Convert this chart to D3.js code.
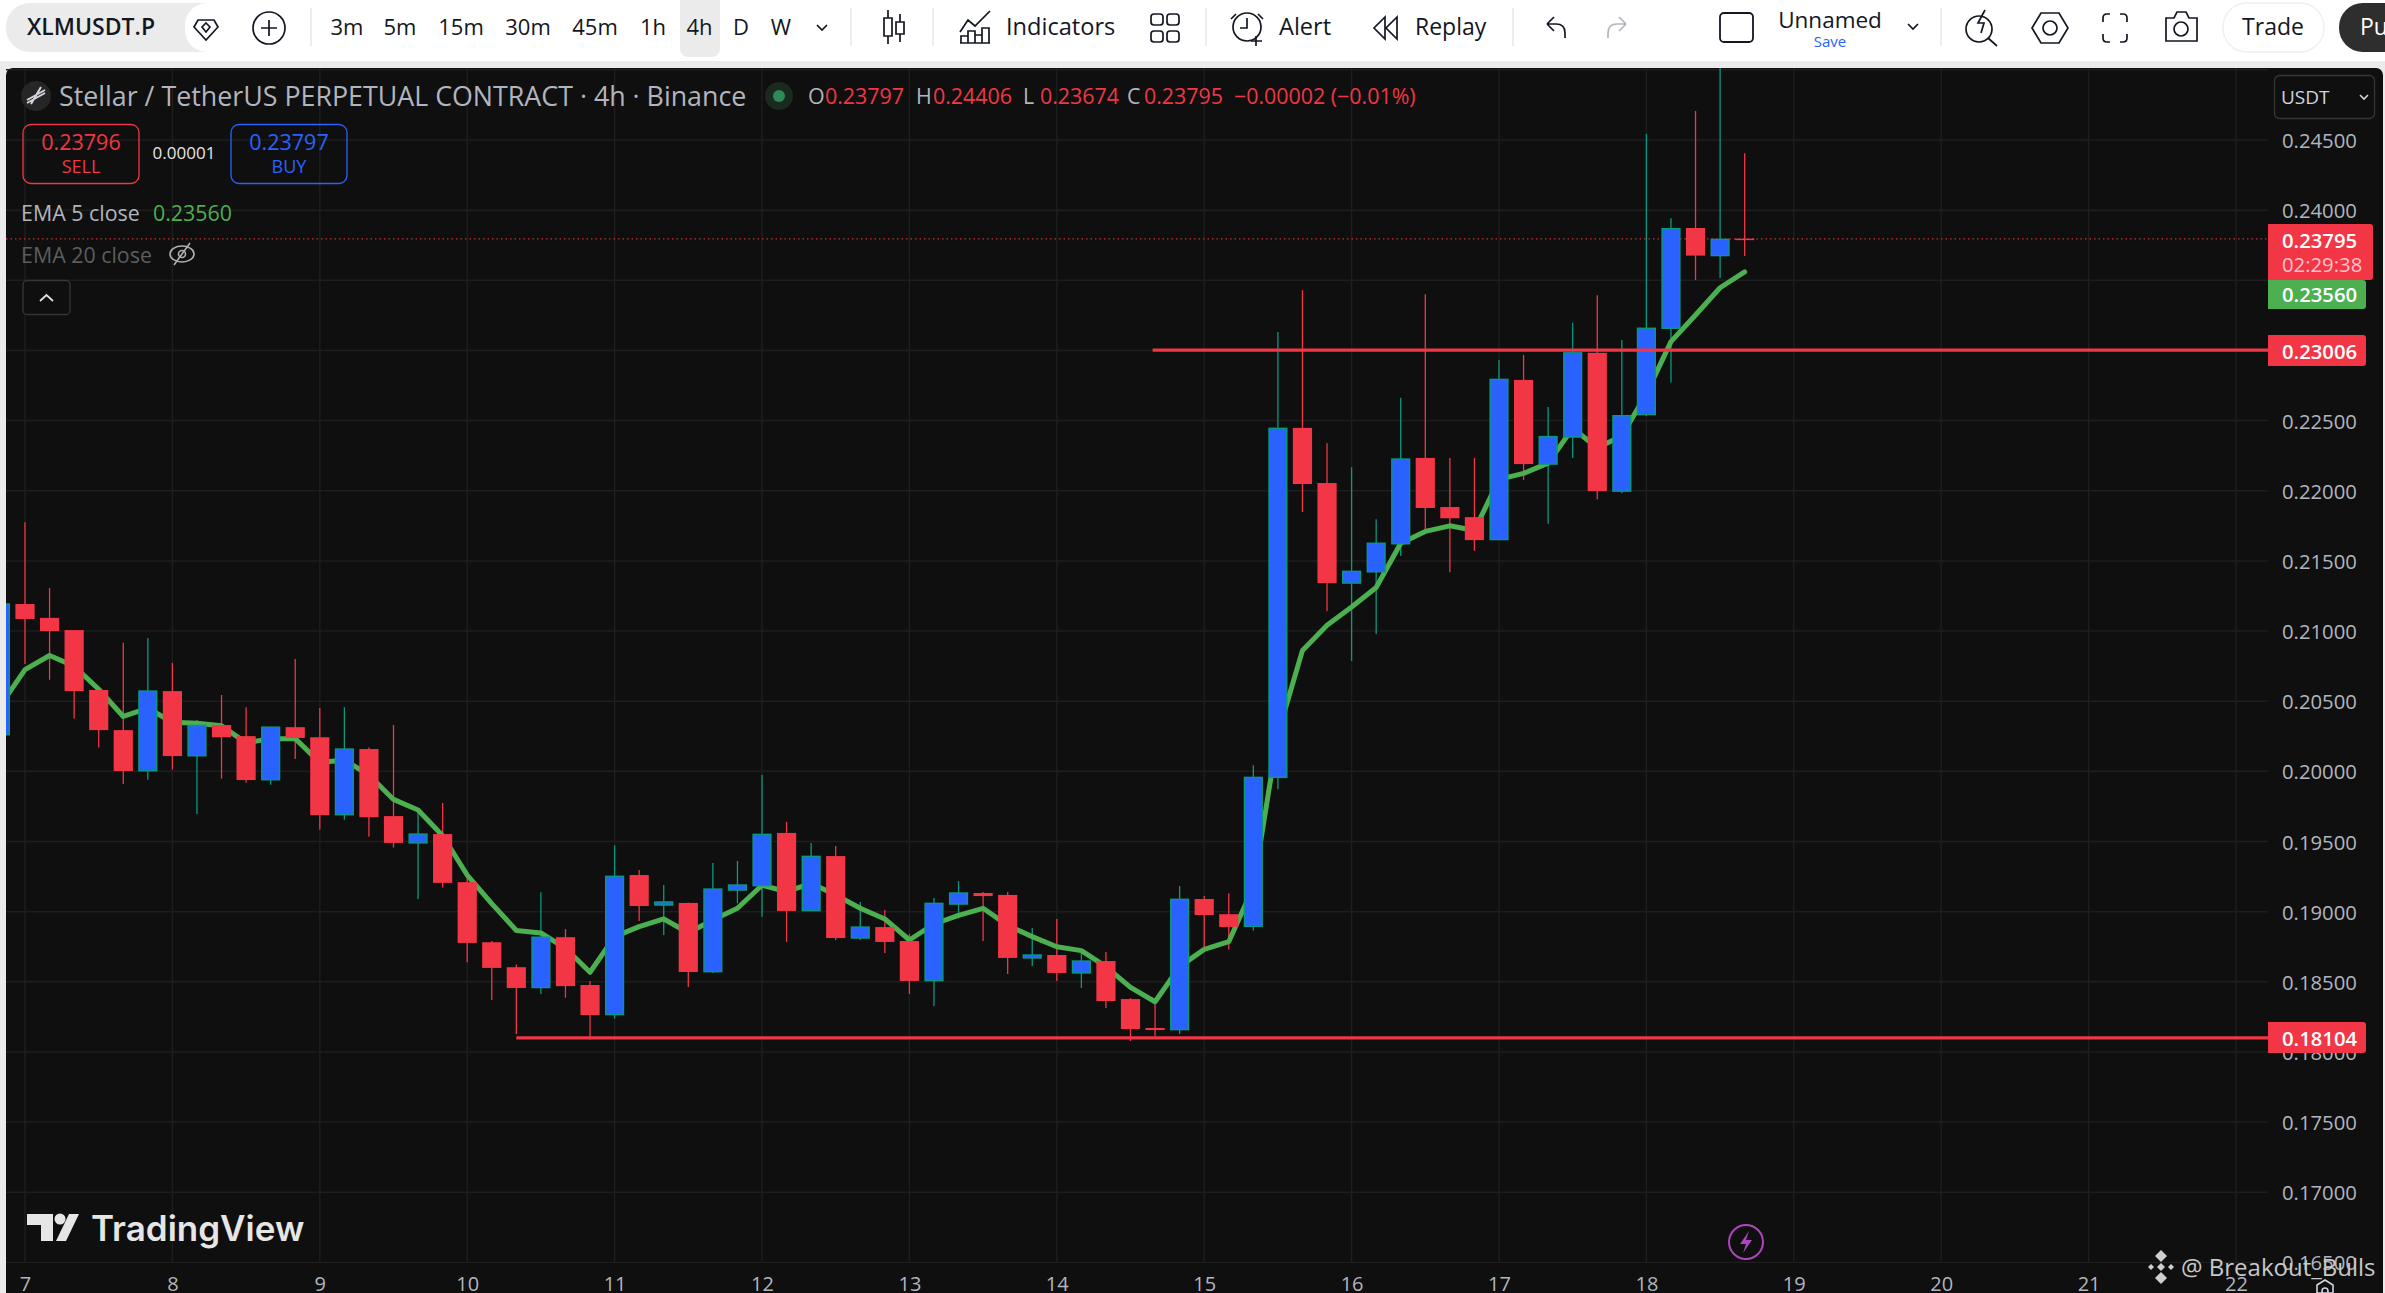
<!DOCTYPE html>
<html>
<head>
<meta charset="utf-8">
<script src="https://d3js.org/d3.v7.min.js"></script>
<style>
    * { margin: 0; padding: 0; }
    body { background: #ebebeb; overflow: hidden; }
    text { font-family: "Open Sans", sans-serif; }
</style>
</head>
<body>
<script>
/////////////////////////////////////////////////////
// DATA
/////////////////////////////////////////////////////

// 4h bars, the first one starts one bar before day 7
const firstBar = -1
const opens = [.20261,.21193,.21094,.21007,.20580,.20294,.20004,.20572,.20111,.20330,.20251,.19940,.20315,.20243,.19691,.20159,.19681,.19490,.19553,.19210,.18782,.18604,.18459,.18818,.18477,
    .18266,.19261,.19047,.19062,.18572,.19154,.19185,.19561,.19007,.19396,.18812,.18890,.18791,.18508,.19054,.19133,.19119,.18670,.18691,.18563,.18648,.18377,.18171,.18159,.19090,
    .18982,.18895,.19957,.22448,.22055,.21342,.21422,.21622,.22234,.21884,.21812,.21652,.22790,.22190,.22383,.22983,.21997,.22543,.23158,.23873,.23676,.23797]
const highs = [.21193,.21776,.21308,.21007,.20580,.20916,.20951,.20773,.20366,.20544,.20457,.20315,.20801,.20452,.20457,.20170,.20330,.19711,.19775,.19286,.18790,.18624,.19138,.18876,.18505,
    .19473,.19297,.19190,.19066,.19347,.19361,.19974,.19639,.19489,.19468,.19069,.19012,.18841,.19097,.19218,.19140,.19140,.18883,.18948,.18712,.18712,.18384,.18363,.19183,.19111,
    .19131,.20044,.23132,.23430,.22339,.22168,.21797,.22663,.23401,.22234,.22234,.22932,.22968,.22597,.23197,.23394,.23074,.24543,.23942,.24707,.25160,.24406]
const lows = [.20261,.20765,.20653,.20376,.20170,.19910,.19940,.20012,.19696,.19948,.19918,.19905,.20088,.19584,.19655,.19533,.19457,.19090,.19172,.18639,.18370,.18128,.18413,.18387,.18087,
    .18237,.18933,.18833,.18463,.18563,.19059,.18964,.18784,.19007,.18798,.18798,.18705,.18413,.18327,.18952,.18791,.18555,.18613,.18506,.18456,.18313,.18078,.18114,.18128,.18748,
    .18731,.18866,.19873,.21848,.21142,.20786,.20979,.21535,.21717,.21419,.21572,.21652,.22077,.21764,.22234,.21939,.21983,.22532,.22772,.23502,.23516,.23674]
const closes = [.21193,.21086,.21000,.20572,.20294,.20002,.20572,.20109,.20327,.20243,.19938,.20315,.20238,.19688,.20159,.19673,.19490,.19553,.19205,.18777,.18599,.18456,.18818,.18469,.18263,
    .19252,.19040,.19069,.18570,.19161,.19190,.19551,.19005,.19394,.18812,.18890,.18784,.18506,.19059,.19133,.19111,.18670,.18691,.18563,.18648,.18363,.18163,.18156,.19088,.18976,
    .18891,.19957,.22445,.22048,.21342,.21426,.21626,.22226,.21877,.21804,.21648,.22794,.22190,.22386,.22983,.21997,.22535,.23158,.23868,.23676,.23792,.23795]
const ema5 = [.20470,.20725,.20826,.20750,.20585,.20391,.20450,.20350,.20343,.20325,.20203,.20233,.20233,.20063,.20081,.19974,.19800,.19724,.19541,.19261,.19057,.18866,.18848,.18739,.18568,
    .18822,.18893,.18948,.18850,.18940,.19024,.19188,.19142,.19202,.19119,.19024,.18948,.18798,.18912,.18974,.19024,.18902,.18822,.18750,.18722,.18608,.18460,.18358,.18608,.18731,
    .18786,.19175,.20266,.20862,.21041,.21172,.21310,.21626,.21710,.21750,.21717,.22081,.22124,.22197,.22445,.22306,.22390,.22692,.23063,.23253,.23447,.23560]

const priceTicks = [.245,.24,.235,.23,.225,.22,.215,.21,.205,.2,.195,.19,.185,.18,.175,.17,.165]
const gridPrices = [.25].concat(priceTicks)
const dayTicks = d3.range(7, 23)

const supportLines = [{ price: .23006, fromBar: 45.9 }, { price: .18104, fromBar: 20 }]
const lastPrice = .23795
const lastEma = .23560
const ohlcLegend = [["O", "0.23797", 808], ["H", "0.24406", 916], ["L", "0.23674", 1023], ["C", "0.23795", 1127]]
const timeframes = [["3m", 347], ["5m", 400], ["15m", 461], ["30m", 528], ["45m", 595], ["1h", 653], ["4h", 699.5], ["D", 741], ["W", 781]]

/////////////////////////////////////////////////////
// COLORS
/////////////////////////////////////////////////////

const red = "#f23645", blue = "#2962ff", teal = "#089981", green = "#4caf50"
const bg = "#0f0f0f", gridColor = "#1e1e1e", axisText = "#b2b5be", ink = "#131722"

/////////////////////////////////////////////////////
// SETUP SVG AND SCALES
/////////////////////////////////////////////////////

const width = 2385, height = 1293
const plotRight = 2268, plotTop = 68, plotBottom = 1263

const svg = d3.select("body").append("svg")
    .attr("width", width).attr("height", height)
    .style("display", "block")

const xScale = d3.scaleLinear().domain([7, 22]).range([25, 2236])
const yScale = d3.scaleLinear().domain([.245, .165]).range([140, 1262.4])
const barX = i => xScale(7 + (i + firstBar) / 6)

svg.append("defs").append("clipPath").attr("id", "plot")
    .append("rect").attr("x", 6).attr("y", plotTop).attr("width", plotRight - 6).attr("height", plotBottom - plotTop)

svg.append("rect").attr("width", width).attr("height", height).attr("fill", "#ebebeb")
svg.append("rect").attr("y", 0).attr("width", width).attr("height", 61).attr("fill", "#fff")
svg.append("rect").attr("x", 6).attr("y", plotTop).attr("width", 2377).attr("height", 1300).attr("rx", 7).attr("fill", bg)

/////////////////////////////////////////////////////
// GRID AND AXES
/////////////////////////////////////////////////////

const grid = svg.append("g").attr("clip-path", "url(#plot)")
grid.selectAll(".h").data(gridPrices).join("line")
    .attr("x1", 6).attr("x2", plotRight)
    .attr("y1", d => yScale(d)).attr("y2", d => yScale(d))
    .attr("stroke", gridColor).attr("stroke-width", 1.5)
grid.selectAll(".v").data(dayTicks).join("line")
    .attr("x1", d => xScale(d)).attr("x2", d => xScale(d))
    .attr("y1", plotTop).attr("y2", plotBottom)
    .attr("stroke", gridColor).attr("stroke-width", 1.5)

const yAxis = d3.axisRight(yScale).tickValues(priceTicks).tickFormat(d3.format(".5f")).tickSize(0).tickPadding(0)
svg.append("g").attr("transform", `translate(2282,1)`).call(yAxis)
    .call(g => g.select(".domain").remove())
    .selectAll("text").attr("fill", axisText).style("font-size", "20.3px").style("font-family", "Open Sans")

const xAxis = d3.axisBottom(xScale).tickValues(dayTicks).tickFormat(d3.format("d")).tickSize(0).tickPadding(0)
svg.append("g").attr("transform", `translate(0,1277)`).call(xAxis)
    .call(g => g.select(".domain").remove())
    .selectAll("text").attr("fill", axisText).style("font-size", "20px").style("font-family", "Open Sans")

/////////////////////////////////////////////////////
// CANDLES, EMA AND LEVELS
/////////////////////////////////////////////////////

const plot = svg.append("g").attr("clip-path", "url(#plot)")

// last price dotted line
plot.append("line")
    .attr("x1", 6).attr("x2", plotRight)
    .attr("y1", yScale(lastPrice)).attr("y2", yScale(lastPrice))
    .attr("stroke", red).attr("stroke-width", 1).attr("stroke-dasharray", "1.5 3")

const bars = opens.map((o, i) => ({ i, o, h: highs[i], l: lows[i], c: closes[i], up: closes[i] >= o }))

plot.selectAll(".wick").data(bars).join("line")
    .attr("x1", d => barX(d.i)).attr("x2", d => barX(d.i))
    .attr("y1", d => yScale(d.h)).attr("y2", d => yScale(d.l))
    .attr("stroke", d => d.up ? teal : red).attr("stroke-width", 1.3)

plot.selectAll(".ema").data([ema5]).join("path")
    .attr("d", d3.line().x((d, i) => barX(i)).y(d => yScale(d)))
    .attr("fill", "none").attr("stroke", green).attr("stroke-width", 5)
    .attr("stroke-linecap", "round").attr("stroke-linejoin", "round")

plot.selectAll(".body").data(bars).join("rect")
    .attr("x", d => barX(d.i) - (d.up ? 8.9 : 9.6))
    .attr("width", d => d.up ? 17.8 : 19.2)
    .attr("y", d => yScale(Math.max(d.o, d.c)))
    .attr("height", d => Math.max(1.5, Math.abs(yScale(d.o) - yScale(d.c))))
    .attr("fill", d => d.up ? blue : red)
    .attr("stroke", d => d.up ? teal : "none").attr("stroke-width", 1.4)

plot.selectAll(".level").data(supportLines).join("line")
    .attr("x1", d => barX(d.fromBar - firstBar)).attr("x2", plotRight)
    .attr("y1", d => yScale(d.price) + .5).attr("y2", d => yScale(d.price) + .5)
    .attr("stroke", red).attr("stroke-width", 3.2)

/////////////////////////////////////////////////////
// PRICE LABELS
/////////////////////////////////////////////////////

function priceTag(y0, h, w, fill) {
    svg.append("path")
        .attr("d", `M2268 ${y0}H${2268 + w - 3}q3 0 3 3V${y0 + h - 3}q0 3 -3 3H2268Z`)
        .attr("fill", fill)
}
function txt(parent, x, y, s, size, fill, opts) {
    opts = opts || {}
    return parent.append("text").attr("x", x).attr("y", y).text(s)
        .attr("dominant-baseline", "central")
        .attr("text-anchor", opts.anchor || "start")
        .attr("fill", fill)
        .style("font-size", size + "px")
        .style("font-weight", opts.weight || 400)
}

// the EMA tag sits right under the last price tag
priceTag(280, 29, 98, green)
priceTag(224, 56, 105, red)
txt(svg, 2282, 240, d3.format(".5f")(lastPrice), 20.3, "#fff", { weight: 600 })
txt(svg, 2282, 264, "02:29:38", 20.3, "#ffc4c9")
txt(svg, 2282, 294, d3.format(".5f")(lastEma), 20.3, "#fff", { weight: 600 })
supportLines.forEach(d => {
    priceTag(Math.round(yScale(d.price)) - 15, 31, 98, red)
    txt(svg, 2282, yScale(d.price) + 1, d3.format(".5f")(d.price), 20.3, "#fff", { weight: 600 })
})

/////////////////////////////////////////////////////
// LEGEND
/////////////////////////////////////////////////////

const legend = svg.append("g")
legend.append("circle").attr("cx", 36).attr("cy", 96).attr("r", 15).attr("fill", "#262626")
legend.append("path").attr("d", "M27 100L45 90M27 103L45 93M31 104L41 87").attr("stroke", "#d1d4dc").attr("stroke-width", 2).attr("fill", "none")
txt(legend, 59, 95, "Stellar / TetherUS PERPETUAL CONTRACT · 4h · Binance", 26.8, axisText)
legend.append("circle").attr("cx", 779).attr("cy", 96).attr("r", 14).attr("fill", "#1a2a20")
legend.append("circle").attr("cx", 779).attr("cy", 96).attr("r", 6).attr("fill", "#2e8b57")
ohlcLegend.forEach(d => {
    txt(legend, d[2], 95, d[0], 21.4, axisText)
    txt(legend, d[2] + 17, 95, d[1], 21.4, red)
})
txt(legend, 1234, 95, "\u22120.00002 (\u22120.01%)", 21.4, red)

// sell / buy
legend.append("rect").attr("x", 23).attr("y", 124.5).attr("width", 116).attr("height", 59).attr("rx", 8).attr("fill", "none").attr("stroke", red).attr("stroke-width", 1.3)
legend.append("rect").attr("x", 231).attr("y", 124.5).attr("width", 116).attr("height", 59).attr("rx", 8).attr("fill", "none").attr("stroke", blue).attr("stroke-width", 1.3)
txt(legend, 81, 141, "0.23796", 21.5, red, { anchor: "middle", weight: 500 })
txt(legend, 81, 166, "SELL", 18, red, { anchor: "middle" })
txt(legend, 289, 141, "0.23797", 21.5, blue, { anchor: "middle", weight: 500 })
txt(legend, 289, 166, "BUY", 18, blue, { anchor: "middle" })
txt(legend, 184, 152, "0.00001", 17, "#e6e6e6", { anchor: "middle" })

txt(legend, 21, 212, "EMA 5 close", 21.4, axisText)
txt(legend, 153, 212, "0.23560", 21.4, green)
txt(legend, 21, 254, "EMA 20 close", 21.4, "#5d5d5d")
legend.append("g").attr("transform", "translate(182,254)").call(g => {
    g.append("ellipse").attr("rx", 12).attr("ry", 8).attr("fill", "none").attr("stroke", "#b0b0b0").attr("stroke-width", 1.6)
    g.append("circle").attr("r", 3.5).attr("fill", "none").attr("stroke", "#b0b0b0").attr("stroke-width", 1.6)
    g.append("path").attr("d", "M-8 11L8 -11").attr("stroke", "#b0b0b0").attr("stroke-width", 1.6)
})
legend.append("rect").attr("x", 23).attr("y", 280.5).attr("width", 47).attr("height", 34).attr("rx", 4).attr("fill", bg).attr("stroke", "#363636").attr("stroke-width", 1.3)
legend.append("path").attr("d", "M40 301L46.5 295L53 301").attr("fill", "none").attr("stroke", "#e0e0e0").attr("stroke-width", 1.8)

// currency button
legend.append("rect").attr("x", 2274.5).attr("y", 75.5).attr("width", 100).attr("height", 43).attr("rx", 5).attr("fill", bg).attr("stroke", "#363636").attr("stroke-width", 1.3)
txt(legend, 2281, 97, "USDT", 19, "#d1d4dc")
legend.append("path").attr("d", "M2360 95L2364 99L2368 95").attr("fill", "none").attr("stroke", "#d1d4dc").attr("stroke-width", 1.6)

// logo and watermark
legend.append("path").attr("d", "M27 1214H53V1241H41V1225H27Z M79 1214L66 1241H56L69 1214Z").attr("fill", "#e6e6e6")
legend.append("circle").attr("cx", 60).attr("cy", 1219).attr("r", 5.5).attr("fill", "#e6e6e6")
txt(legend, 91, 1228, "TradingView", 35, "#e6e6e6", { weight: 600 }).style("font-family", "Inter")

legend.append("circle").attr("cx", 1746).attr("cy", 1242).attr("r", 17).attr("fill", "none").attr("stroke", "#ab47bc").attr("stroke-width", 2)
legend.append("path").attr("d", "M1749 1231L1740 1244H1746L1743 1253L1752 1240H1746Z").attr("fill", "#ab47bc")

// exchange mark: small diamonds
legend.selectAll(".dia").data([[2161, 1256, 6], [2161, 1278, 6], [2151, 1267, 3], [2171, 1267, 3], [2161, 1267, 4]]).join("path")
    .attr("d", d => `M${d[0]} ${d[1] - d[2]}L${d[0] + d[2]} ${d[1]}L${d[0]} ${d[1] + d[2]}L${d[0] - d[2]} ${d[1]}Z`)
    .attr("fill", "#cfcfcf")
txt(legend, 2181, 1266, "@ Breakout_Bulls", 24, "#c8c8c8")
legend.append("path").attr("d", "M2325 1280L2333 1285V1293H2317V1285Z").attr("fill", "none").attr("stroke", "#d1d4dc").attr("stroke-width", 1.6)
legend.append("circle").attr("cx", 2325).attr("cy", 1291).attr("r", 3).attr("fill", "none").attr("stroke", "#d1d4dc").attr("stroke-width", 1.6)

/////////////////////////////////////////////////////
// TOOLBAR
/////////////////////////////////////////////////////

const bar = svg.append("g")
const sep = x => bar.append("line").attr("x1", x).attr("x2", x).attr("y1", 8).attr("y2", 46).attr("stroke", "#e0e3eb").attr("stroke-width", 1.3)
const icon = (d, col) => bar.append("path").attr("d", d).attr("fill", "none").attr("stroke", col || ink).attr("stroke-width", 1.7)

bar.append("rect").attr("x", 6).attr("y", 3).attr("width", 224).attr("height", 49).attr("rx", 24).attr("fill", "#ebebeb")
bar.append("rect").attr("x", 185).attr("y", 3).attr("width", 45).attr("height", 49).attr("rx", 22).attr("fill", "#fff")
txt(bar, 27, 26, "XLMUSDT.P", 23, ink, { weight: 600 })
icon("M198 20H214L218 27L206 40L194 27Z M206 23L210 27L206 32L202 27Z")
bar.append("circle").attr("cx", 269).attr("cy", 28).attr("r", 16).attr("fill", "none").attr("stroke", ink).attr("stroke-width", 1.7)
icon("M269 20V36M261 28H277")
sep(311)

bar.append("rect").attr("x", 680).attr("y", -8).attr("width", 40).attr("height", 65).attr("rx", 8).attr("fill", "#ebebeb")
timeframes.forEach(d => txt(bar, d[1], 26, d[0], 22, ink, { anchor: "middle" }))
icon("M817 25L822 30L827 25")
sep(851)
icon("M884 18H892V36H884Z M888 10V18M888 36V44 M896 22H904V34H896Z M900 14V22M900 34V42")
sep(933)

icon("M960 32L968 20L975 26L990 11 M961 43V36H968V43 M968 43V31H975V43 M975 43V35H982V43 M982 43V28H989V43 M960 43H990")
txt(bar, 1006, 26, "Indicators", 23.6, ink)
bar.selectAll(".sq").data([[1151, 14], [1167, 14], [1151, 31], [1167, 31]]).join("rect")
    .attr("x", d => d[0]).attr("y", d => d[1]).attr("width", 12).attr("height", 11).attr("rx", 3)
    .attr("fill", "none").attr("stroke", ink).attr("stroke-width", 1.7)
sep(1206)

bar.append("circle").attr("cx", 1247).attr("cy", 27).attr("r", 14).attr("fill", "none").attr("stroke", ink).attr("stroke-width", 1.7)
icon("M1247 18V28H1240 M1256 36V46M1251 41H1262 M1236 14L1231 19 M1258 14L1263 19")
txt(bar, 1279, 26, "Alert", 23.6, ink)
icon("M1385 17L1374 28L1385 39Z M1397 17L1386 28L1397 39Z")
txt(bar, 1415, 26, "Replay", 23, ink)
sep(1513)
icon("M1547 24L1554 17M1547 24L1554 31M1547 24H1556Q1565 24 1565 33V38")
icon("M1626 24L1619 17M1626 24L1619 31M1626 24H1617Q1608 24 1608 33V38", "#b2b5be")
bar.append("rect").attr("x", 1720).attr("y", 13).attr("width", 33).attr("height", 29).attr("rx", 4).attr("fill", "none").attr("stroke", ink).attr("stroke-width", 1.8)
txt(bar, 1830, 19, "Unnamed", 22.5, ink, { anchor: "middle" })
txt(bar, 1830, 41, "Save", 15, blue, { anchor: "middle" })
icon("M1908 24L1913 29L1918 24")
sep(1941)

bar.append("circle").attr("cx", 1979).attr("cy", 29).attr("r", 13).attr("fill", "none").attr("stroke", ink).attr("stroke-width", 1.7)
icon("M1988 38L1997 46 M1985 10L1978 23H1984L1981 33")
icon("M2041 13H2059L2068 28L2059 43H2041L2032 28Z")
bar.append("circle").attr("cx", 2050).attr("cy", 28).attr("r", 7).attr("fill", "none").attr("stroke", ink).attr("stroke-width", 1.7)
icon("M2103 22V18Q2103 14 2107 14H2110 M2120 14H2123Q2127 14 2127 18V22 M2127 34V38Q2127 42 2123 42H2120 M2110 42H2107Q2103 42 2103 38V34")
icon("M2166 18H2174L2177 12H2186L2189 18H2197V41H2166Z")
bar.append("circle").attr("cx", 2181).attr("cy", 29).attr("r", 7).attr("fill", "none").attr("stroke", ink).attr("stroke-width", 1.7)

bar.append("rect").attr("x", 2223).attr("y", 3).attr("width", 101).attr("height", 49).attr("rx", 24).attr("fill", "#fff").attr("stroke", "#eeeeee").attr("stroke-width", 1.3)
txt(bar, 2273, 26, "Trade", 23, ink, { anchor: "middle" })
bar.append("rect").attr("x", 2339).attr("y", 3).attr("width", 80).attr("height", 49).attr("rx", 24).attr("fill", "#2e2e2e")
txt(bar, 2360, 26, "Publish", 23, "#fff")
</script>
</body>
</html>
